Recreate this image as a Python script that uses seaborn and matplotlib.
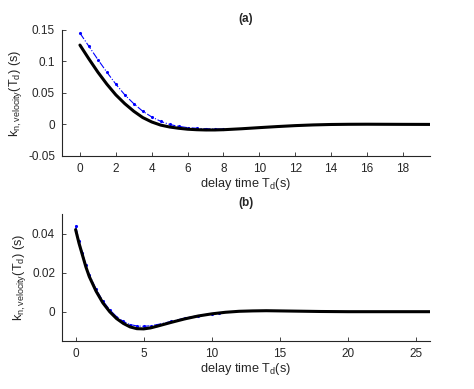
import numpy as np
import pandas as pd
import matplotlib
matplotlib.use('Agg')
import matplotlib.pyplot as plt
from matplotlib.ticker import FormatStrFormatter
import seaborn as sns

# --- data ---
# panel (a)
td_a_black = [0, 0.5, 1, 1.5, 2, 2.5, 3, 3.5, 4, 4.5, 5, 5.5, 6, 6.5, 7, 7.5, 8,
              9, 10, 11, 12, 13, 14, 15, 16, 17, 18, 19.5]
k_a_black = [0.126, 0.104, 0.083, 0.064, 0.047, 0.033, 0.021, 0.011, 0.004, -0.001,
             -0.004, -0.006, -0.0075, -0.0083, -0.0087, -0.0087, -0.0083,
             -0.0068, -0.005, -0.0033, -0.0018, -0.0007, 0.0, 0.0003, 0.0004,
             0.0003, 0.0002, 0.0001]
td_a_blue = [0, 0.5, 1, 1.5, 2, 2.5, 3, 3.5, 4, 4.5, 5, 5.5, 6, 6.5, 7, 7.5, 8]
k_a_blue = [0.145, 0.124, 0.103, 0.083, 0.064, 0.047, 0.033, 0.021, 0.012, 0.005,
            0.0, -0.003, -0.005, -0.006, -0.0068, -0.007, -0.0072]

# panel (b)
td_b_black = [0, 0.25, 0.5, 0.75, 1, 1.5, 2, 2.5, 3, 3.5, 4, 4.5, 5, 5.5, 6, 7, 8,
              9, 10, 11, 12, 13, 14, 15, 16, 18, 20, 26]
k_b_black = [0.042, 0.035, 0.029, 0.023, 0.018, 0.0105, 0.0045, 0.0, -0.0035,
             -0.006, -0.0078, -0.0087, -0.0088, -0.0083, -0.0074, -0.0055, -0.0037,
             -0.0022, -0.0011, -0.0003, 0.0002, 0.0004, 0.0005, 0.0004, 0.0003,
             0.0001, 0.0, 0.0]
td_b_blue = [0, 0.25, 0.5, 0.75, 1, 1.5, 2, 2.5, 3, 3.5, 4, 4.5, 5, 5.5, 6, 7, 8,
             9, 10, 10.5]
k_b_blue = [0.044, 0.036, 0.030, 0.024, 0.019, 0.0115, 0.0055, 0.001, -0.0025,
            -0.005, -0.0066, -0.0073, -0.0075, -0.0072, -0.0066, -0.005, -0.0033,
            -0.002, -0.001, -0.0006]

sns.set_style('ticks')
plt.rcParams['font.family'] = ['Liberation Sans', 'DejaVu Sans']
plt.rcParams['mathtext.default'] = 'regular'
grey = '#262626'

fig = plt.figure(figsize=(4.74, 3.89), dpi=100)
ax_a = fig.add_axes([0.1308, 0.599, 0.776, 0.324])
ax_b = fig.add_axes([0.1308, 0.1234, 0.776, 0.3265])

panels = [
    (ax_a, td_a_black, k_a_black, td_a_blue, k_a_blue, '(a)',
     (-1, 19.5), (-0.05, 0.15), np.arange(0, 19, 2), [-0.05, 0, 0.05, 0.1, 0.15]),
    (ax_b, td_b_black, k_b_black, td_b_blue, k_b_blue, '(b)',
     (-1, 26), (-0.015, 0.05), np.arange(0, 26, 5), [0, 0.02, 0.04]),
]

for ax, xb, yb, xl, yl, title, xlim, ylim, xt, yt in panels:
    sns.lineplot(x=xl, y=yl, ax=ax, color='#0000ff', linewidth=0.8,
                 linestyle='-.', marker='.', markersize=4.5, markeredgewidth=0)
    sns.lineplot(x=xb, y=yb, ax=ax, color='black', linewidth=2.2)
    ax.set_xlim(*xlim)
    ax.set_ylim(*ylim)
    ax.set_xticks(xt)
    ax.set_yticks(yt)
    ax.yaxis.set_major_formatter(FormatStrFormatter('%g'))
    ax.set_xlabel('delay time T$_{d}$(s)', fontsize=9.2, color=grey, labelpad=1)
    ax.set_ylabel('k$_{n,velocity}$(T$_{d}$) (s)', fontsize=9.2, color=grey, labelpad=3)
    ax.set_title(title, fontsize=8.5, fontweight='bold', pad=6)
    ax.tick_params(direction='in', length=3, width=0.6, labelsize=8.5,
                   colors=grey, pad=5)
    sns.despine(ax=ax)
    for s in ['left', 'bottom']:
        ax.spines[s].set_color(grey)
        ax.spines[s].set_linewidth(0.8)

fig.savefig('out.png', dpi=100, facecolor='white')
